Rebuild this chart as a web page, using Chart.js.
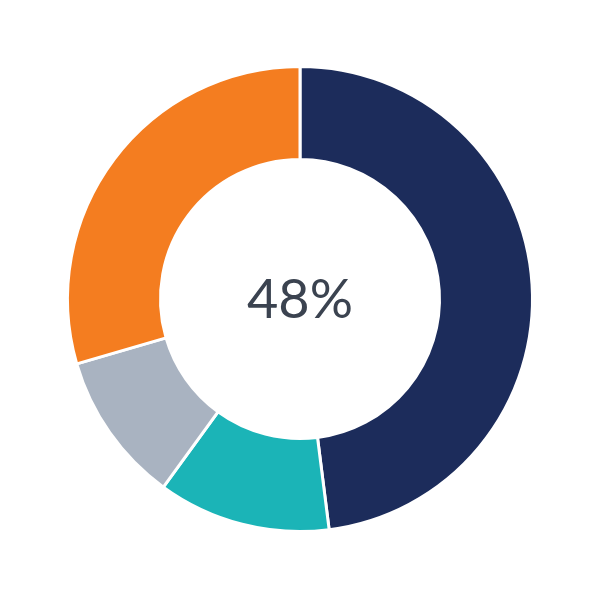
<!DOCTYPE html>
<html>
<head>
<meta charset="utf-8">
<script src="https://cdn.jsdelivr.net/npm/chart.js@4"></script>
<style>
html,body{margin:0;padding:0;background:#fff;}
#wrap{position:relative;width:600px;height:600px;}
#center{position:absolute;left:0;top:0;width:600px;height:600px;display:flex;align-items:center;justify-content:center;font-family:Lato,"Open Sans",sans-serif;font-weight:400;font-size:54px;color:#3b4350;pointer-events:none;}
#center span{position:relative;top:-3px;}
</style>
</head>
<body>
<div id="wrap">
<canvas id="c" width="600" height="600"></canvas>
<div id="center"><span>48%</span></div>
</div>
<script>
const categories = ["Navy", "Teal", "Gray", "Orange"];
const values = [48, 12, 10.5, 29.5];
const colors = ["#1c2c5b", "#1bb4b7", "#a9b3c1", "#f47d20"];

new Chart(document.getElementById('c'), {
  type: 'doughnut',
  data: {
    labels: categories,
    datasets: [{
      data: values,
      backgroundColor: colors,
      borderColor: '#ffffff',
      borderWidth: 3
    }]
  },
  options: {
    responsive: false,
    animation: false,
    cutout: '60%',
    layout: { padding: { top: 65, bottom: 67, left: 66, right: 66 } },
    plugins: { legend: { display: false }, tooltip: { enabled: false } }
  }
});
</script>
</body>
</html>
